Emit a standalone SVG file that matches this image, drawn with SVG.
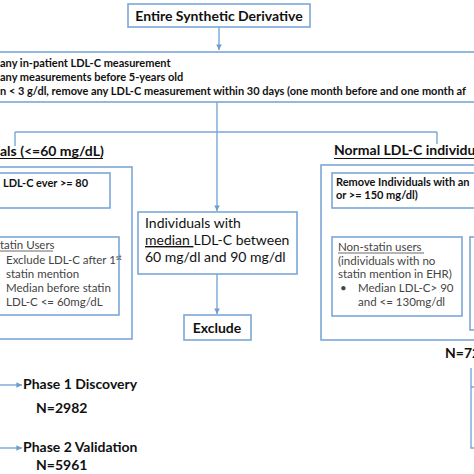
<svg xmlns="http://www.w3.org/2000/svg" width="474" height="474" viewBox="0 0 474 474">
<defs>
<marker id="ah" viewBox="0 0 6 6" refX="6" refY="3" markerWidth="4" markerHeight="4" orient="auto"><path d="M0,0 L6,3 L0,6 z" fill="#6d9dcf"/></marker>
<style>
.box{fill:#fff;stroke:#7aa7d6;stroke-width:1.6}
.ln{fill:none;stroke:#7aa7d6;stroke-width:1.4}
.t{font-family:Lato,"Open Sans","Liberation Sans",sans-serif;fill:#111}
.b{font-weight:bold}
.s{font-size:11px}
.m{font-size:11.5px;fill:#444}
.l{font-size:14px}
.u{stroke:#111;stroke-width:1}
.ug{stroke:#444;stroke-width:0.8}
</style>
</defs>
<rect width="474" height="474" fill="#fff"/>
<g id="connectors">
<path class="ln" d="M219,27 V50" marker-end="url(#ah)"/>
<path class="ln" d="M217,102 V132"/>
<path class="ln" d="M15,132 H437"/>
<path class="ln" d="M15,132 V146"/>
<path class="ln" d="M437,132 V144"/>
<path class="ln" d="M217,132 V211" marker-end="url(#ah)"/>
<path class="ln" d="M217,274 V314" marker-end="url(#ah)"/>
<path class="ln" d="M53,208 V235" marker-end="url(#ah)"/>
<path class="ln" d="M396,208 V235" marker-end="url(#ah)"/>
<path class="ln" d="M0,385 H22" marker-end="url(#ah)"/>
<path class="ln" d="M0,448 H22" marker-end="url(#ah)"/>
<path class="ln" d="M471,368 V448 H476 M471,387 H476"/>
</g>
<g id="root">
<rect class="box" x="128" y="4" width="182" height="23"/>
<text class="t b l" x="219" y="21" text-anchor="middle">Entire Synthetic Derivative</text>
</g>
<g id="filters">
<rect class="box" x="-5" y="52" width="485" height="50"/>
<text class="t b s" x="0" y="67">any in-patient LDL-C measurement</text>
<text class="t b s" x="0" y="81">any measurements before 5-years old</text>
<text class="t b s" x="0" y="95">n &lt; 3 g/dl, remove any LDL-C measurement within 30 days (one month before and one month af</text>
</g>
<g id="low-group">
<text class="t b l" x="0" y="156">als (&lt;=60 mg/dL)</text>
<line class="u" x1="0" y1="158.5" x2="103" y2="158.5"/>
<rect class="box" x="-5" y="167" width="137" height="172"/>
</g>
<g id="low-ever">
<rect class="box" x="-5" y="173" width="115" height="35"/>
<text class="t b s" x="3" y="187">LDL-C ever &gt;= 80</text>
</g>
<g id="low-statin">
<rect class="box" x="-5" y="237" width="124" height="78"/>
<text class="t m" x="0" y="249">tatin Users</text>
<line class="ug" x1="0" y1="251" x2="53" y2="251"/>
<text class="t m" x="6" y="264">Exclude LDL-C after 1<tspan font-size="7" dy="-4">st</tspan></text>
<text class="t m" x="6" y="278">statin mention</text>
<text class="t m" x="6" y="292">Median before statin</text>
<text class="t m" x="6" y="306">LDL-C &lt;= 60mg/dL</text>
</g>
<g id="mid">
<rect class="box" x="138" y="212" width="159" height="62"/>
<text class="t l" x="145" y="228">Individuals with</text>
<text class="t l" x="145" y="245"><tspan text-decoration="underline">median </tspan>LDL-C between</text>
<text class="t l" x="145" y="262">60 mg/dl and 90 mg/dl</text>
</g>
<g id="exclude">
<rect class="box" x="184" y="315" width="67" height="25"/>
<text class="t b l" x="217" y="333" text-anchor="middle">Exclude</text>
</g>
<g id="normal-group">
<text class="t b l" x="334" y="155">Normal LDL-C individu</text>
<line class="u" x1="334" y1="158.5" x2="480" y2="158.5"/>
<rect class="box" x="321" y="165" width="160" height="175"/>
</g>
<g id="normal-remove">
<rect class="box" x="332" y="173" width="148" height="35"/>
<text class="t b s" x="336" y="186">Remove Individuals with an</text>
<text class="t b s" x="336" y="199">or &gt;= 150 mg/dl)</text>
</g>
<g id="non-statin">
<rect class="box" x="332" y="237" width="130" height="79"/>
<text class="t m" x="338" y="251">Non-statin users</text>
<line class="ug" x1="338" y1="253" x2="424" y2="253"/>
<text class="t m" x="338" y="265">(individuals with no</text>
<text class="t m" x="338" y="278">statin mention in EHR)</text>
<text class="t m" x="340" y="292">•</text>
<text class="t m" x="358" y="292">Median LDL-C&gt;  90</text>
<text class="t m" x="358" y="306">and &lt;= 130mg/dl</text>
</g>
<g id="statin-right">
<rect class="box" x="470" y="237" width="20" height="93"/>
</g>
<g id="n-right">
<text class="t b l" x="445" y="358">N=72</text>
</g>
<g id="phase1">
<text class="t b l" x="23" y="389">Phase 1 Discovery</text>
<text class="t b l" x="36" y="413">N=2982</text>
</g>
<g id="phase2">
<text class="t b l" x="23" y="452">Phase 2 Validation</text>
<text class="t b l" x="36" y="470">N=5961</text>
</g>
</svg>
